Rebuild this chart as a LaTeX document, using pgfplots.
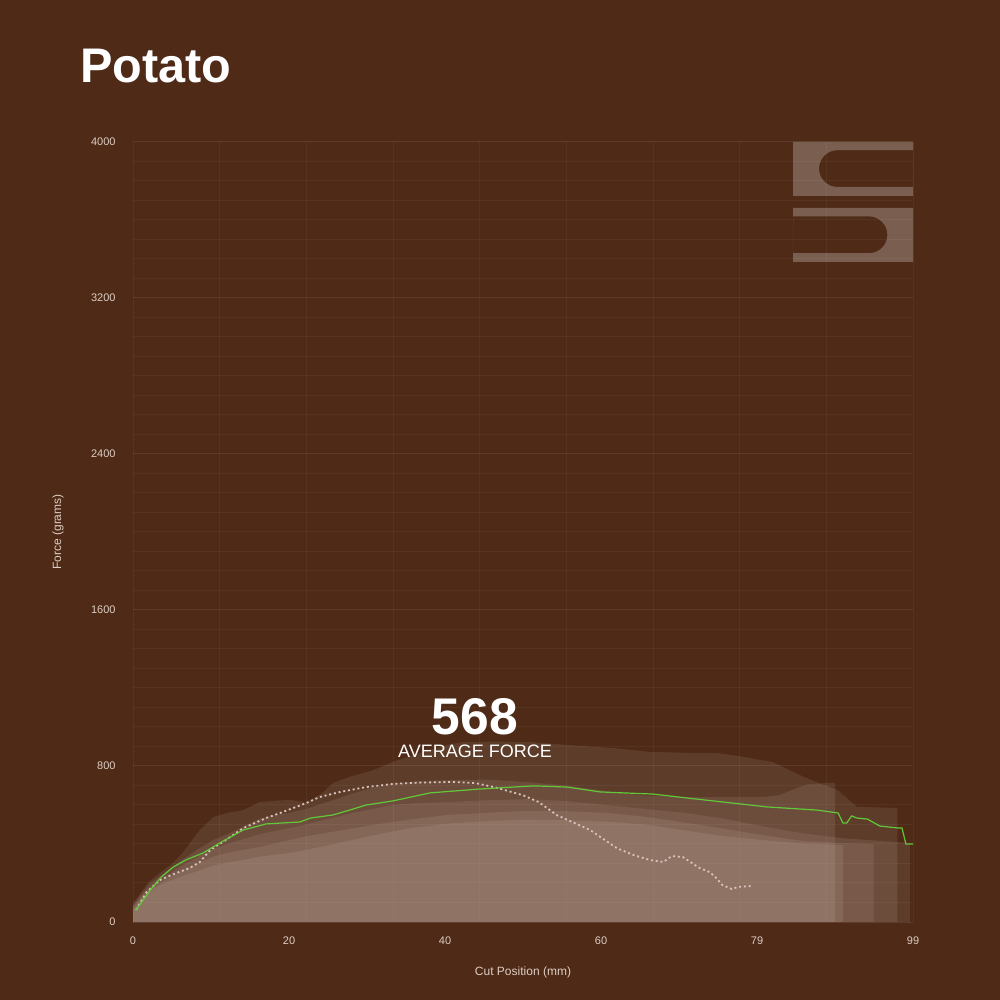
\documentclass[border=0pt]{standalone}
\usepackage{pgfplots}
\pgfplotsset{compat=1.18}
\usepackage{fontspec}
\setmainfont{Liberation Sans}
\definecolor{bgc}{RGB}{78,42,23}
\definecolor{txt}{RGB}{222,205,196}
\definecolor{fillc}{RGB}{240,222,214}
\definecolor{meanc}{RGB}{98,200,58}
\definecolor{medc}{RGB}{215,195,188}
\begin{document}
\begin{tikzpicture}
\useasboundingbox (0,0) rectangle (500pt,500pt);
\fill[bgc] (0,0) rectangle (500pt,500pt);
\begin{axis}[at={(66.5pt,39pt)}, anchor=south west, scale only axis,
  width=390pt, height=390pt,
  xmin=0, xmax=99, ymin=0, ymax=4000,
  axis line style={draw=none},
  major tick length=0pt, minor tick length=0pt,
  xtick={0,19.8,39.6,59.4,79.2,99}, xticklabels={0,20,40,60,79,99},
  minor xtick={0,11,...,99}, xminorgrids=true, xmajorgrids=false,
  ytick={0,800,...,4000}, minor ytick={0,100,...,4000},
  ymajorgrids=true, yminorgrids=true,
  major grid style={draw=white, opacity=0.045, line width=0.5pt},
  minor grid style={draw=white, opacity=0.045, line width=0.5pt},
  /pgf/number format/assume math mode=true,
  /pgf/number format/1000 sep={},
  scaled y ticks=false,
  ticklabel style={font=\fontsize{5.5}{6}\selectfont, text=txt},
  yticklabel style={anchor=east, inner sep=0pt, xshift=-8.5pt},
  xticklabel style={anchor=north, inner sep=0pt, yshift=-7.3pt},
]
% layer 1 (max)
\addplot[draw=none, fill=fillc, fill opacity=0.1] table {
0 97
1 150
2 205
3.4 251
5 300
6.3 354
7.5 420
8.5 472
10.2 538
12 560
14 574
16.1 615
18 622
19.9 626
22 615
24 660
25.4 713
27.5 744
30.5 779
33 821
35.5 855
37.7 882
40 910
41.9 923
46 925
50.4 923
55.1 908
60.9 892
65.6 872
70 868
74.1 867
77 850
81.2 820
83.8 769
85.5 738
87.5 705
89.4 677
90.5 640
91.9 590
94 588
97 585
} \closedcycle;
% layer 2
\addplot[draw=none, fill=fillc, fill opacity=0.1] table {
0 85
1 140
2 190
3.4 235
5 280
6.3 320
8.5 380
10.2 420
12 450
14 490
16.1 530
18 550
19.9 560
22 580
25 620
28 660
30.5 690
33 710
36 722
40 728
45 730
50 718
55 700
60 672
65 648
70 640
75 640
80 641
82 650
83.8 680
85.5 705
88 713
89.1 713
} \closedcycle;
% layer 3
\addplot[draw=none, fill=fillc, fill opacity=0.1] table {
0 80
1 130
2 175
3.4 215
5 255
6.3 290
8.5 340
10.2 375
12 400
14 425
16.1 450
19.9 482
22 500
25 530
28 560
30.5 580
33 600
36 610
40 615
45 625
50 630
55 620
60 600
65 580
70 560
75 530
80 490
85 455
90 430
94 418
97 410
98.6 405
} \closedcycle;
% layer 4
\addplot[draw=none, fill=fillc, fill opacity=0.1] table {
0 70
1 120
2 160
3.4 200
5 235
6.3 265
8.5 305
10.2 335
12 355
14 370
16.1 385
19.9 420
22 440
25 460
30 495
35 525
40 549
45 560
50 570
55 568
60 560
65 540
70 510
75 478
80 445
85 415
90 405
94.0 400
} \closedcycle;
% layer 5
\addplot[draw=none, fill=fillc, fill opacity=0.1] table {
0 60
1 110
2 150
3.4 190
5 215
6.3 235
8.5 265
10.2 290
12 305
14 318
16.1 335
19.9 354
22 370
25 395
30 440
35 480
40 505
45 518
50 525
55 522
60 515
65 500
70 470
75 440
80 420
85 402
90.1 395
} \closedcycle;
% median (dotted)
\addplot[medc, line width=0.9pt, dash pattern=on 1pt off 1.4pt] table {
0.4 62
1.65 149
3.4 215
5.5 251
7.2 277
8.5 308
9.8 369
11.8 421
14.0 482
16.9 533
19.0 564
22.0 610
23.7 641
26.3 667
29.6 692
33.0 708
36.5 715
40.6 718
43.5 712
46.0 690
49.5 650
51.5 615
53.8 548
58.0 472
61.4 379
63.5 344
65.6 318
67.3 308
68.4 338
69.8 333
71.9 277
73.2 256
73.9 231
74.8 190
76.0 169
76.8 180
78.7 185
};
% mean (green)
\addplot[meanc, line width=0.6pt] table {
0.4 62
2.2 164
3.6 231
5.1 282
6.7 318
8.9 354
11.0 405
14.0 472
16.9 503
21.2 513
22.5 533
25.4 549
27.5 574
29.6 600
33.0 621
37.7 662
44.0 682
50.4 697
51.7 697
55.1 692
59.3 667
66.0 656
70.3 636
80.5 590
86.8 574
89.5 559
90.1 508
90.6 508
91.2 544
91.9 533
93.2 528
94.8 492
97.1 482
97.6 482
98.1 400
99.0 400
};
\node[anchor=base, inner sep=0pt, text=white] at (axis cs:43.4,959) {\fontsize{25.8}{28}\selectfont\bfseries 568};
\node[anchor=base, inner sep=0pt, text=white] at (axis cs:43.4,846) {\fontsize{9}{10}\selectfont AVERAGE FORCE};
\end{axis}
% logo
\fill[white, fill opacity=0.25, even odd rule]
  (396.5pt,402pt) rectangle (456.5pt,429pt)
  (456.5pt,406.5pt) -- (418.7pt,406.5pt) arc[start angle=270, end angle=90, radius=9.2pt] -- (456.5pt,424.9pt) -- cycle;
\fill[white, fill opacity=0.25, even odd rule]
  (396.5pt,369pt) rectangle (456.5pt,396pt)
  (396.5pt,373.4pt) -- (434.5pt,373.4pt) arc[start angle=-90, end angle=90, radius=9.2pt] -- (396.5pt,391.8pt) -- cycle;
% titles
\node[anchor=base west, inner sep=0pt, text=white] at (40pt,458.5pt) {\fontsize{24.3}{26}\selectfont\bfseries Potato};
\node[anchor=base, inner sep=0pt, text=txt] at (261.5pt,12.5pt) {\fontsize{6}{7}\selectfont Cut Position (mm)};
\node[rotate=90, inner sep=0pt, text=txt] at (29pt,234pt) {\fontsize{6}{7}\selectfont Force (grams)};
\end{tikzpicture}
\end{document}
